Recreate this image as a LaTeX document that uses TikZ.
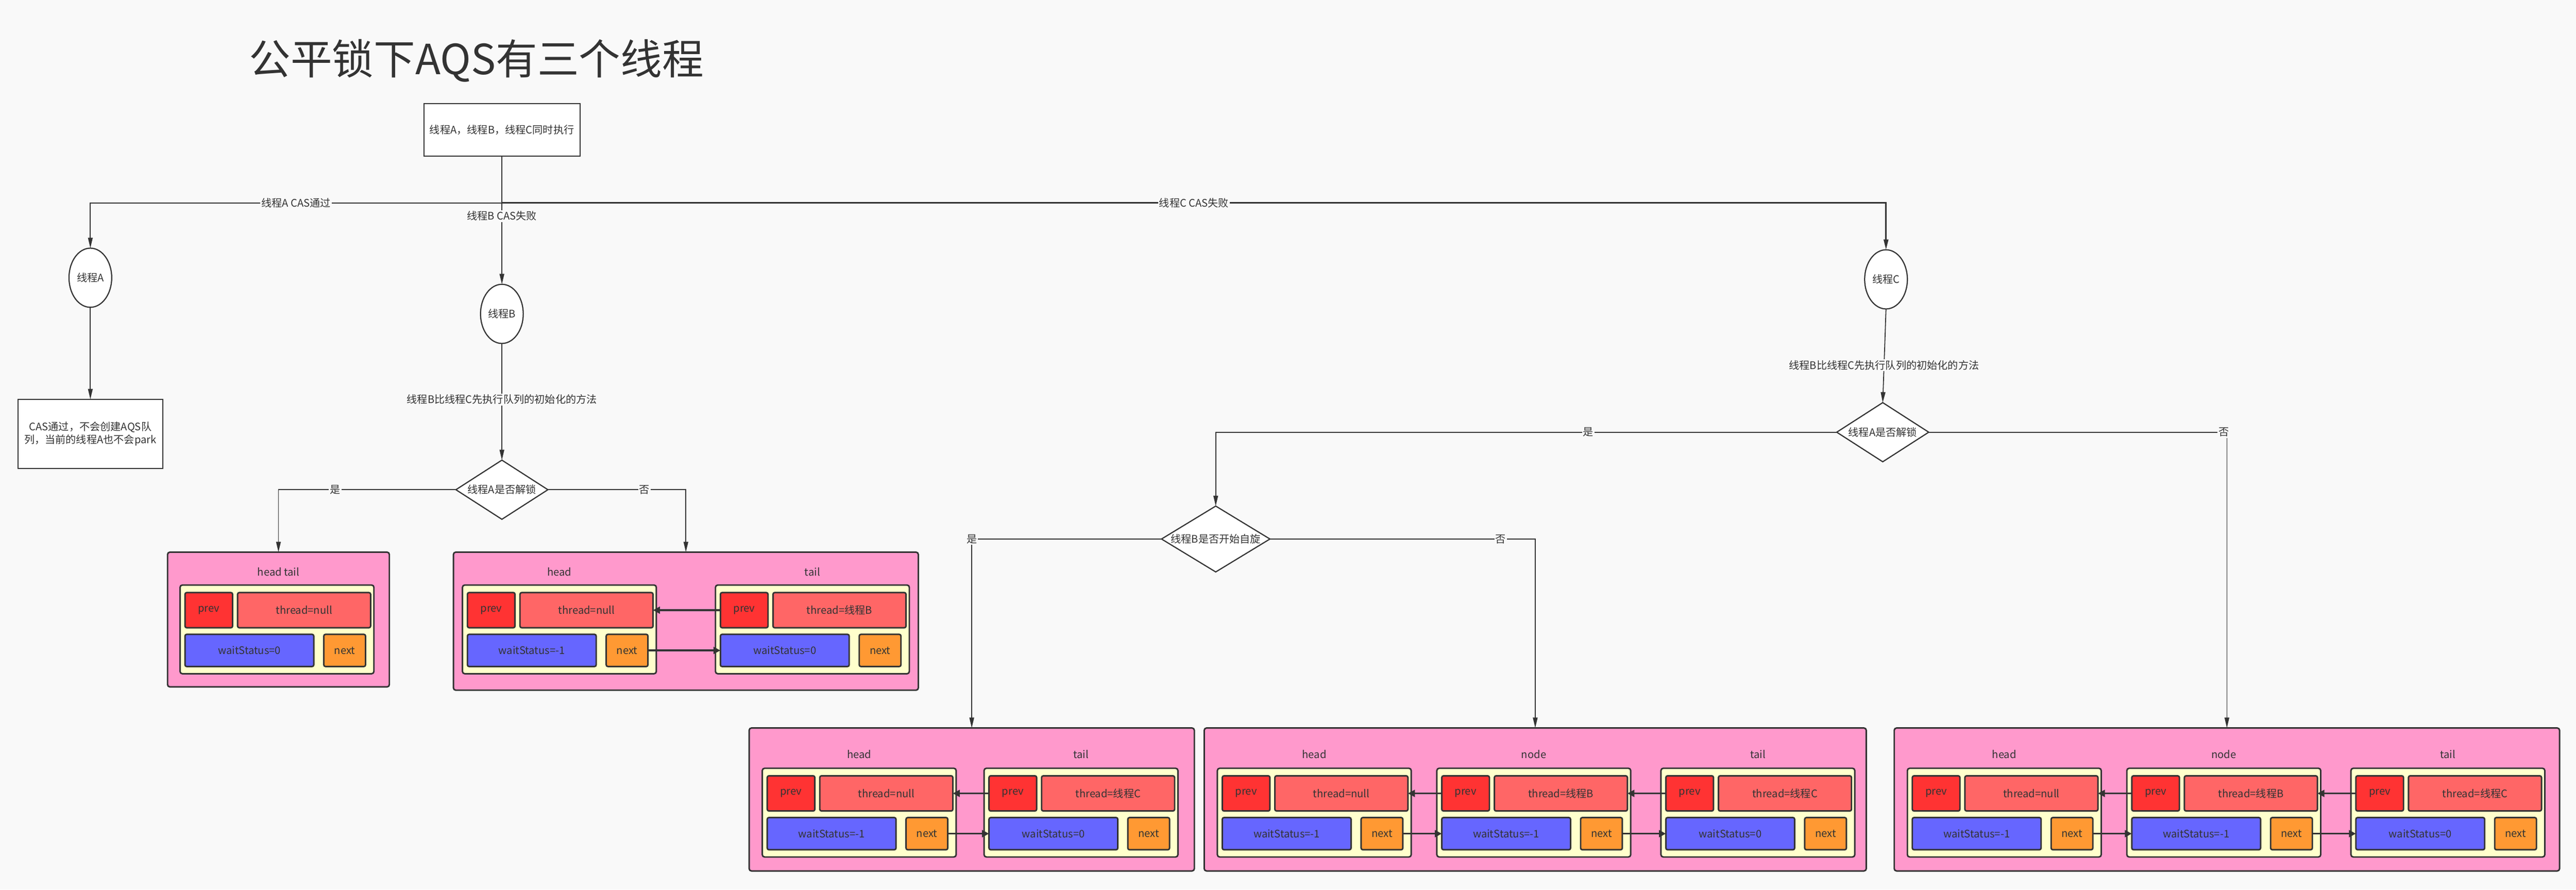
\documentclass[tikz,border=0pt]{standalone}
\usepackage{fontspec}
\setmainfont{Noto Sans CJK SC}
\usetikzlibrary{shapes.geometric,arrows.meta}
\definecolor{bg}{HTML}{F9F9F9}
\definecolor{ink}{HTML}{333333}
\definecolor{pinkc}{HTML}{FF99CC}
\definecolor{yel}{HTML}{FFFFCC}
\definecolor{redc}{HTML}{FF3333}
\definecolor{thr}{HTML}{FF6666}
\definecolor{blu}{HTML}{6666FF}
\definecolor{ora}{HTML}{FF9933}
\tikzset{
  every node/.style={font=\fontsize{9}{11}\selectfont, text=ink, inner sep=0pt, outer sep=0pt},
  conn/.style={draw=ink, line width=0.8pt},
  arr/.style={conn, -{Triangle[length=9pt,width=4pt]}},
  lbl/.style={fill=bg, inner sep=1pt},
  proc/.style={draw=ink, line width=1pt, fill=white, minimum width=4.75cm, minimum height=1.6cm, align=center},
  ell/.style={ellipse, draw=ink, line width=1pt, fill=white, minimum width=1.3cm, minimum height=1.8cm},
  dia/.style={diamond, draw=ink, line width=1pt, fill=white, aspect=1.6, minimum width=#1, minimum height=1.8cm},
  outer/.style={draw=ink, line width=1.3pt, fill=pinkc, rounded corners=2pt, anchor=north west},
  inbox/.style={draw=ink, line width=1.3pt, fill=yel, rounded corners=2pt, minimum width=5.9cm, minimum height=2.7cm, anchor=north west},
  cell/.style={draw=ink, line width=1.3pt, anchor=north west, rounded corners=1.5pt},
  link/.style={draw=ink, line width=1.6pt, -{Triangle[length=6pt,width=6pt]}},
}
\newcommand\qn[5]{%
  \node[inbox] (#1) at (#2,#3) {};
  \node[cell, fill=redc, minimum width=1.45cm, minimum height=1.07cm] (#1p) at (#2+3,#3+4.6) {prev};
  \node[cell, fill=thr, minimum width=4.05cm, minimum height=1.07cm] (#1t) at (#2+35,#3+4.6) {thread=#4};
  \node[cell, fill=blu, minimum width=3.92cm, minimum height=0.98cm] (#1w) at (#2+3,#3+30) {waitStatus=#5};
  \node[cell, fill=ora, minimum width=1.27cm, minimum height=0.98cm] (#1n) at (#2+87.5,#3+30) {next};
}
\begin{document}
\begin{tikzpicture}[x=0.05cm, y=-0.05cm]
\fill[bg] (0,0) rectangle (1568,541.4);
\useasboundingbox (0,0) rectangle (1568,541.4);

\node[font=\fontsize{36}{40}\selectfont] (title) at (290,37) {公平锁下AQS有三个线程};
\node[proc] (st) at (305.5,79) {线程A，线程B，线程C同时执行};
\coordinate (j) at (305.5,123.5);
\node[ell] (eA) at (55,169) {线程A};
\node[ell] (eB) at (305.5,191) {线程B};
\node[ell] (eC) at (1148,170) {线程C};
\node[proc, minimum width=4.4cm, minimum height=2.1cm] (bA) at (55,264) {CAS通过，不会创建AQS队\\列，当前的线程A也不会park};
\node[dia=2.8cm] (dB) at (305.5,298) {线程A是否解锁};
\node[dia=2.8cm] (dC) at (1146,263) {线程A是否解锁};
\node[dia=3.3cm] (dD) at (740,328) {线程B是否开始自旋};

% boxes
\node[outer, minimum width=6.75cm, minimum height=4.1cm] (b1) at (102,336) {};
\node[outer, minimum width=14.15cm, minimum height=4.2cm] (b2) at (276,336) {};
\node[outer, minimum width=13.55cm, minimum height=4.35cm] (b3) at (456,443) {};
\node[outer, minimum width=20.15cm, minimum height=4.35cm] (b4) at (733,443) {};
\node[outer, minimum width=20.25cm, minimum height=4.35cm] (b5) at (1153,443) {};

% connectors
\draw[conn] (st.south) -- (j);
\draw[arr] (j) -- (j -| eA) node[pos=0.5, lbl] {线程A CAS通过} -- (eA.north);
\draw[arr] (j) -- (eB.north) node[pos=0.16, lbl] {线程B CAS失败};
\draw[arr, line width=1.3pt] (j) -- (j -| eC) node[pos=0.5, lbl, font=\fontsize{9}{11}\selectfont] {线程C CAS失败} -- (eC.north);
\draw[arr] (eA.south) -- (bA.north);
\draw[arr] (eB.south) -- (dB.north) node[pos=0.48, lbl] {线程B比线程C先执行队列的初始化的方法};
\draw[arr] (eC.south) -- (dC.north) node[pos=0.6, lbl] {线程B比线程C先执行队列的初始化的方法};
\draw[arr] (dB.west) -- (dB.west -| b1.north) node[pos=0.68, lbl] {是} -- (b1.north);
\draw[arr] (dB.east) -- (dB.east -| b2.north) node[pos=0.7, lbl] {否} -- (b2.north);
\draw[arr] (dC.west) -- (dC.west -| dD.north) node[pos=0.4, lbl] {是} -- (dD.north);
\draw[arr] (dC.east) -- (dC.east -| b5.north) node[pos=0.99, lbl] {否} -- (b5.north);
\draw[arr] (dD.west) -- (dD.west -| b3.north) node[pos=1, lbl] {是} -- (b3.north);
\draw[arr] (dD.east) -- (dD.east -| b4.north) node[pos=0.87, lbl] {否} -- (b4.north);

% box 1
\node (l1) at (169.5,348) {head tail};
\qn{a}{109.6}{356}{null}{0}
% box 2
\node (l2a) at (340.5,348) {head};
\node (l2b) at (494.5,348) {tail};
\qn{ba}{281.5}{356}{null}{-1}
\qn{bb}{435.5}{356}{线程B}{0}
\draw[link] (bbp.west) -- (bat.east);
\draw[link] (ban.east) -- (bbw.west);
% box 3
\node (l3a) at (523,459) {head};
\node (l3b) at (658,459) {tail};
\qn{ca}{464}{467.5}{null}{-1}
\qn{cb}{599}{467.5}{线程C}{0}
\draw[link] (cbp.west) -- (cat.east);
\draw[link] (can.east) -- (cbw.west);
% box 4
\node (l4a) at (800,459) {head};
\node (l4b) at (933.6,459) {node};
\node (l4c) at (1070,459) {tail};
\qn{da}{741}{467.5}{null}{-1}
\qn{db}{874.6}{467.5}{线程B}{-1}
\qn{dc}{1011}{467.5}{线程C}{0}
\draw[link] (dbp.west) -- (dat.east);
\draw[link] (dan.east) -- (dbw.west);
\draw[link] (dcp.west) -- (dbt.east);
\draw[link] (dbn.east) -- (dcw.west);
% box 5
\node (l5a) at (1220,459) {head};
\node (l5b) at (1353.6,459) {node};
\node (l5c) at (1490,459) {tail};
\qn{ea}{1161}{467.5}{null}{-1}
\qn{eb}{1294.6}{467.5}{线程B}{-1}
\qn{ec}{1431}{467.5}{线程C}{0}
\draw[link] (ebp.west) -- (eat.east);
\draw[link] (ean.east) -- (ebw.west);
\draw[link] (ecp.west) -- (ebt.east);
\draw[link] (ebn.east) -- (ecw.west);
\end{tikzpicture}
\end{document}
